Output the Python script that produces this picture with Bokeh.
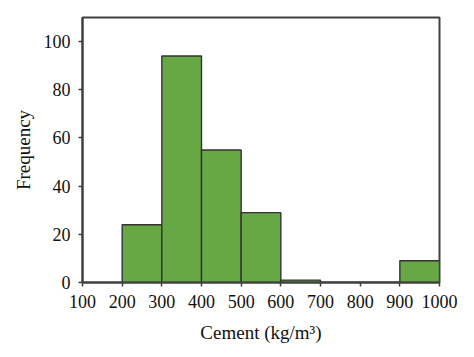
from bokeh.plotting import figure
from bokeh.models import Range1d, FixedTicker
from bokeh.embed import file_html
from bokeh.resources import INLINE

bin_left = [200, 300, 400, 500, 600, 700, 800, 900]
bin_right = [300, 400, 500, 600, 700, 800, 900, 1000]
frequency = [24, 94, 55, 29, 1, 0, 0, 9]
x_ticks = [100, 200, 300, 400, 500, 600, 700, 800, 900, 1000]
y_ticks = [0, 20, 40, 60, 80, 100]

p = figure(width=466, height=349, output_backend="svg", toolbar_location=None,
           x_range=Range1d(100, 1000), y_range=Range1d(0, 110),
           min_border_left=82, min_border_right=27, min_border_top=17, min_border_bottom=67)

p.quad(left=bin_left, right=bin_right, bottom=0, top=frequency,
       fill_color="#66a843", line_color="#333333", line_width=1.4)

p.grid.visible = False
p.outline_line_color = "#404040"
p.outline_line_width = 2
p.background_fill_color = "white"
p.border_fill_color = "white"

font = "Liberation Serif"
for ax in (p.xaxis[0], p.yaxis[0]):
    ax.axis_line_color = "#404040"
    ax.axis_line_width = 2
    ax.major_tick_line_color = "#404040"
    ax.major_tick_line_width = 1.5
    ax.major_tick_in = 0
    ax.major_tick_out = 4
    ax.minor_tick_line_color = None
    ax.major_label_text_font = font
    ax.major_label_text_font_size = "18px"
    ax.major_label_text_color = "#111111"
    ax.axis_label_text_font = font
    ax.axis_label_text_font_size = "19px"
    ax.axis_label_text_font_style = "normal"
    ax.axis_label_text_color = "#111111"

p.xaxis[0].ticker = FixedTicker(ticks=x_ticks)
p.yaxis[0].ticker = FixedTicker(ticks=y_ticks)
p.xaxis[0].axis_label = "Cement (kg/m³)"
p.yaxis[0].axis_label = "Frequency"
p.xaxis[0].major_label_standoff = 8
p.yaxis[0].major_label_standoff = 8
p.xaxis[0].axis_label_standoff = 11
p.yaxis[0].axis_label_standoff = 7

open("out.html", "w").write(file_html(p, INLINE))
